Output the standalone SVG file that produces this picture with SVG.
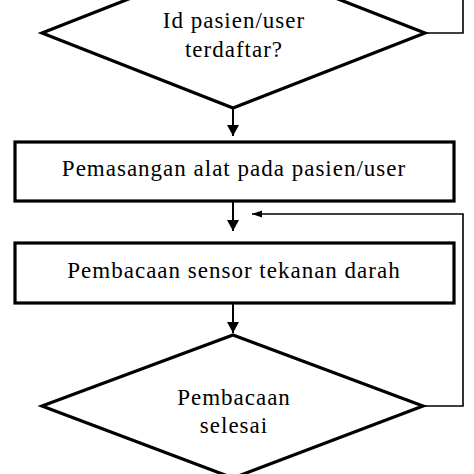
<svg xmlns="http://www.w3.org/2000/svg" width="474" height="474" viewBox="0 0 474 474">
<style>
.shape{fill:#fff;stroke:#000;stroke-width:3.2;stroke-linejoin:miter}
.conn{fill:none;stroke:#000;stroke-width:2}
.fb{fill:none;stroke:#000;stroke-width:1.6}
.lbl{font-family:"Liberation Serif","Times New Roman",serif;font-size:23px;letter-spacing:1px;fill:#000;text-anchor:middle}
</style>
<defs>
<marker id="ah" markerUnits="userSpaceOnUse" markerWidth="12" markerHeight="12" refX="11" refY="6" orient="auto">
<path d="M0,0 L11,6 L0,12 Z" fill="#000"/>
</marker>
<marker id="ahs" markerUnits="userSpaceOnUse" markerWidth="10" markerHeight="8" refX="10" refY="3.5" orient="auto">
<path d="M0,0 L10,3.5 L0,7 Z" fill="#000"/>
</marker>
</defs>
<rect width="474" height="474" fill="#fff"/>
<g id="connectors">
<polyline class="fb" points="426,33 463,33 463,-2"/>
<line class="conn" x1="233" y1="108" x2="233" y2="136" marker-end="url(#ah)"/>
<line class="conn" x1="233" y1="201" x2="233" y2="231" marker-end="url(#ah)"/>
<line class="conn" x1="233" y1="303" x2="233" y2="333" marker-end="url(#ah)"/>
<polyline class="fb" points="424,406 463,406 463,214 252,214" marker-end="url(#ahs)"/>
</g>
<g id="node-terdaftar">
<polygon class="shape" points="233,-42 425,33 233,108 42,33"/>
<text class="lbl" x="234" y="28">Id pasien/user</text>
<text class="lbl" x="234" y="57">terdaftar?</text>
</g>
<g id="node-pemasangan">
<rect class="shape" x="15" y="142" width="439" height="59"/>
<text class="lbl" x="234" y="176">Pemasangan alat pada pasien/user</text>
</g>
<g id="node-pembacaan">
<rect class="shape" x="15" y="243" width="439" height="60"/>
<text class="lbl" x="234" y="278">Pembacaan sensor tekanan darah</text>
</g>
<g id="node-selesai">
<polygon class="shape" points="233,335 423,406 233,478 42,406"/>
<text class="lbl" x="234" y="405">Pembacaan</text>
<text class="lbl" x="234" y="433">selesai</text>
</g>
</svg>
